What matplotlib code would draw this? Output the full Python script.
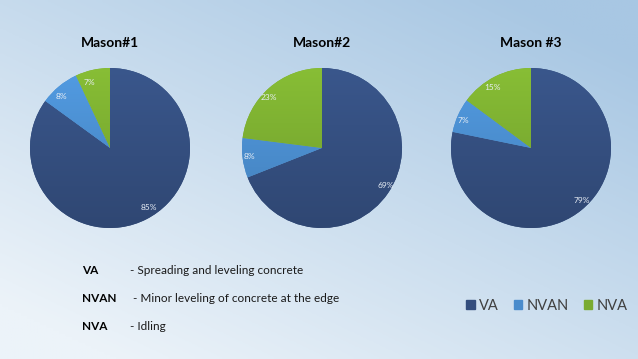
import matplotlib.pyplot as plt
import numpy as np
from matplotlib.patches import Patch

plt.rcParams['font.family'] = ['Lato', 'DejaVu Sans']

masons = ['Mason#1', 'Mason#2', 'Mason #3']
categories = ['VA', 'NVAN', 'NVA']
va = [85, 69, 79]
nvan = [8, 8, 7]
nva = [7, 23, 15]
colors = ['#344e7e', '#4a8ccc', '#7aab30']

notes = [('VA', '- Spreading and leveling concrete'),
         ('NVAN', ' - Minor leveling of concrete at the edge'),
         ('NVA', '- Idling')]

W, H = 638, 359
fig = plt.figure(figsize=(W / 100, H / 100), dpi=100)

# background gradient
bg = fig.add_axes([0, 0, 1, 1])
xx, yy = np.meshgrid(np.linspace(0, 1, 200), np.linspace(0, 1, 120))
t = np.clip(0.55 * xx + 0.65 * (1 - yy) - 0.1, 0, 1)[..., None]
c0 = np.array([236, 243, 249]) / 255
c1 = np.array([168, 199, 227]) / 255
bg.imshow(c0 * (1 - t) + c1 * t, aspect='auto', extent=[0, 1, 0, 1])
bg.axis('off')

centers = [110, 322, 531]
r = 80
for i in range(3):
    cx = centers[i]
    ax = fig.add_axes([(cx - r) / W, (H - 148 - r) / H, 2 * r / W, 2 * r / H])
    vals = [va[i], nvan[i], nva[i]]
    wedges, texts = ax.pie(vals, colors=colors, startangle=90, counterclock=False,
                           labels=[f'{v}%' for v in vals], labeldistance=0.84,
                           wedgeprops=dict(linewidth=0),
                           textprops=dict(color='#e8eef5', fontsize=6))
    # vertical shading on each wedge
    g = np.linspace(0, 1, 100)[:, None, None]
    for w, c in zip(wedges, colors):
        base = np.array(plt.matplotlib.colors.to_rgb(c))
        img = base * (1.12 - 0.22 * g)
        img = np.clip(img, 0, 1) * np.ones((100, 2, 3))
        im = ax.imshow(img, extent=[-1.1, 1.1, -1.1, 1.1], aspect='auto', zorder=1.5)
        im.set_clip_path(w)
    for tx in texts:
        tx.set_zorder(3)
    ax.set_xlim(-1, 1)
    ax.set_ylim(-1, 1)
    ax.set_title(masons[i], fontsize=10, fontweight='bold', color='black', pad=15)

for k, (a, b) in enumerate(notes):
    y = 1 - (270 + k * 28.5) / H
    fig.text(82 / W, y, a, fontsize=8.5, fontweight='bold', va='center', color='black')
    fig.text(130 / W, y, b, fontsize=8.5, va='center', color='#1a1a1a')

handles = [Patch(color=c, label=l) for c, l in zip(colors, categories)]
fig.legend(handles=handles, loc='center', bbox_to_anchor=(547 / W, 1 - 306 / H), ncol=3,
           frameon=False, fontsize=10.5, handlelength=0.6, handleheight=0.6,
           handletextpad=0.3, columnspacing=1.0, labelcolor='#404040')

fig.savefig('out.png', dpi=100)
